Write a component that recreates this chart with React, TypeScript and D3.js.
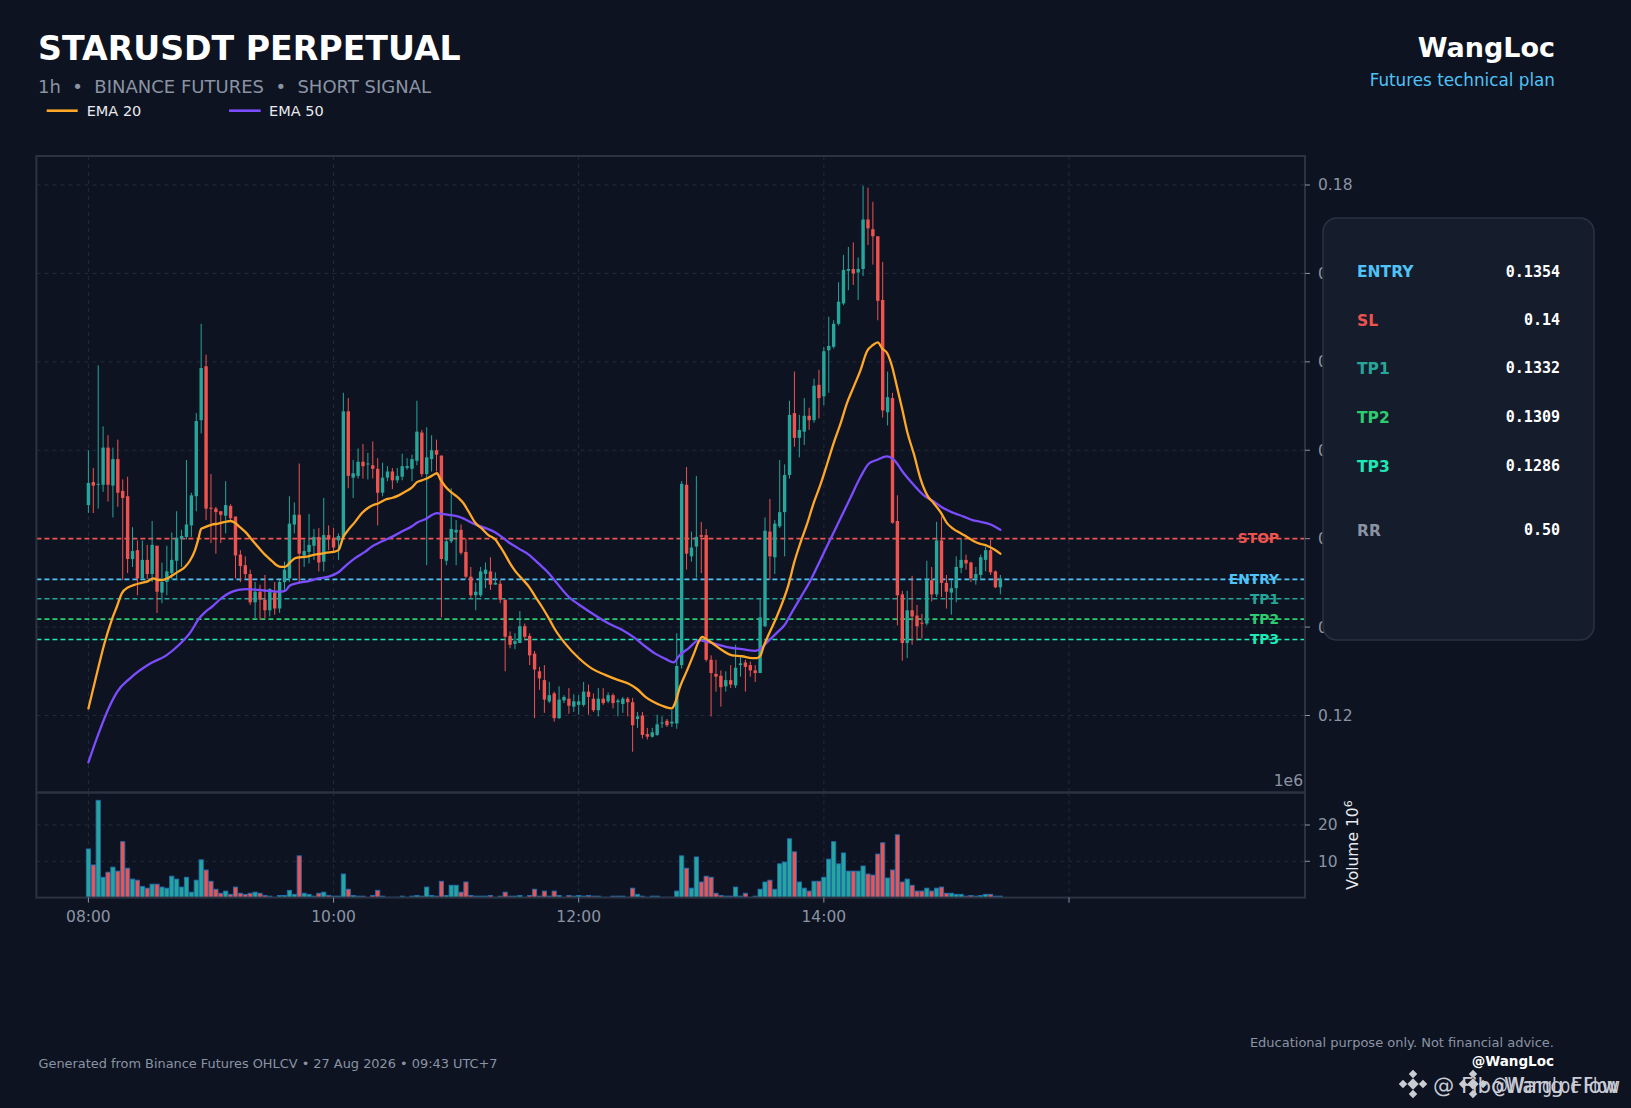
import React from 'react';
import * as d3 from 'd3';

const W = 1631;
const H = 1108;

// ---- data ----
const startTime = new Date(2026, 7, 27, 8, 0);
const stepMinutes = 2.4;

const opens = [
  0.1438, 0.1464, 0.1461, 0.1461, 0.1503, 0.1460, 0.1490, 0.1454, 0.1448, 0.1377,
  0.1387, 0.1355, 0.1376, 0.1360, 0.1392, 0.1339, 0.1351, 0.1361, 0.1375, 0.1400,
  0.1402, 0.1415, 0.1448, 0.1534, 0.1595, 0.1435, 0.1434, 0.1431, 0.1426, 0.1437,
  0.1425, 0.1382, 0.1370, 0.1360, 0.1328, 0.1340, 0.1331, 0.1319, 0.1339, 0.1321,
  0.1351, 0.1355, 0.1416, 0.1427, 0.1381, 0.1385, 0.1392, 0.1402, 0.1374, 0.1404,
  0.1401, 0.1398, 0.1402, 0.1544, 0.1469, 0.1471, 0.1487, 0.1484, 0.1483, 0.1479,
  0.1452, 0.1469, 0.1476, 0.1466, 0.1470, 0.1480, 0.1479, 0.1488, 0.1520, 0.1473,
  0.1490, 0.1500, 0.1494, 0.1375, 0.1397, 0.1407, 0.1410, 0.1385, 0.1357, 0.1336,
  0.1336, 0.1360, 0.1363, 0.1348, 0.1349, 0.1331, 0.1290, 0.1281, 0.1282, 0.1301,
  0.1290, 0.1270, 0.1250, 0.1240, 0.1216, 0.1225, 0.1197, 0.1217, 0.1219, 0.1210,
  0.1212, 0.1212, 0.1227, 0.1219, 0.1206, 0.1219, 0.1216, 0.1223, 0.1215, 0.1213,
  0.1219, 0.1215, 0.1196, 0.1200, 0.1179, 0.1176, 0.1178, 0.1191, 0.1194, 0.1191,
  0.1191, 0.1257, 0.1461, 0.1380, 0.1391, 0.1404, 0.1404, 0.1263, 0.1247, 0.1245,
  0.1233, 0.1240, 0.1234, 0.1257, 0.1260, 0.1257, 0.1251, 0.1248, 0.1301, 0.1408,
  0.1379, 0.1414, 0.1430, 0.1472, 0.1542, 0.1514, 0.1521, 0.1539, 0.1534, 0.1574,
  0.1561, 0.1613, 0.1617, 0.1643, 0.1666, 0.1703, 0.1705, 0.1701, 0.1705, 0.1761,
  0.1750, 0.1742, 0.1670, 0.1543, 0.1559, 0.1420, 0.1337, 0.1282, 0.1319, 0.1313,
  0.1305, 0.1304, 0.1353, 0.1337, 0.1398, 0.1350, 0.1339, 0.1344, 0.1367, 0.1376,
  0.1373, 0.1355, 0.1359, 0.1376, 0.1387, 0.1363, 0.1345,
];
const highs = [
  0.1500, 0.1480, 0.1596, 0.1527, 0.1517, 0.1503, 0.1512, 0.1467, 0.1470, 0.1413,
  0.1398, 0.1398, 0.1393, 0.1420, 0.1392, 0.1373, 0.1392, 0.1407, 0.1431, 0.1410,
  0.1489, 0.1452, 0.1542, 0.1643, 0.1608, 0.1473, 0.1436, 0.1431, 0.1465, 0.1439,
  0.1425, 0.1387, 0.1380, 0.1365, 0.1351, 0.1348, 0.1359, 0.1344, 0.1351, 0.1353,
  0.1374, 0.1448, 0.1441, 0.1485, 0.1399, 0.1428, 0.1411, 0.1412, 0.1446, 0.1415,
  0.1412, 0.1406, 0.1565, 0.1559, 0.1489, 0.1502, 0.1507, 0.1497, 0.1510, 0.1491,
  0.1486, 0.1482, 0.1480, 0.1480, 0.1496, 0.1491, 0.1495, 0.1556, 0.1523, 0.1526,
  0.1517, 0.1512, 0.1494, 0.1400, 0.1457, 0.1421, 0.1416, 0.1400, 0.1368, 0.1350,
  0.1368, 0.1373, 0.1379, 0.1362, 0.1353, 0.1331, 0.1295, 0.1293, 0.1318, 0.1304,
  0.1293, 0.1273, 0.1255, 0.1257, 0.1238, 0.1227, 0.1233, 0.1223, 0.1231, 0.1224,
  0.1223, 0.1238, 0.1235, 0.1225, 0.1231, 0.1231, 0.1226, 0.1225, 0.1219, 0.1221,
  0.1221, 0.1220, 0.1204, 0.1204, 0.1186, 0.1186, 0.1201, 0.1199, 0.1196, 0.1206,
  0.1293, 0.1465, 0.1481, 0.1408, 0.1471, 0.1419, 0.1411, 0.1268, 0.1263, 0.1251,
  0.1250, 0.1257, 0.1280, 0.1268, 0.1263, 0.1261, 0.1257, 0.1333, 0.1424, 0.1445,
  0.1421, 0.1489, 0.1484, 0.1556, 0.1589, 0.1540, 0.1559, 0.1548, 0.1581, 0.1591,
  0.1617, 0.1651, 0.1647, 0.1690, 0.1721, 0.1730, 0.1735, 0.1718, 0.1799, 0.1797,
  0.1781, 0.1742, 0.1713, 0.1589, 0.1565, 0.1449, 0.1341, 0.1341, 0.1358, 0.1325,
  0.1315, 0.1375, 0.1368, 0.1419, 0.1425, 0.1359, 0.1353, 0.1380, 0.1400, 0.1382,
  0.1374, 0.1368, 0.1382, 0.1391, 0.1399, 0.1364, 0.1359,
];
const lows = [
  0.1429, 0.1429, 0.1434, 0.1453, 0.1442, 0.1424, 0.1436, 0.1353, 0.1361, 0.1368,
  0.1336, 0.1354, 0.1354, 0.1351, 0.1316, 0.1327, 0.1336, 0.1354, 0.1353, 0.1368,
  0.1399, 0.1402, 0.1431, 0.1519, 0.1421, 0.1395, 0.1383, 0.1395, 0.1406, 0.1419,
  0.1355, 0.1351, 0.1355, 0.1325, 0.1310, 0.1308, 0.1310, 0.1312, 0.1314, 0.1316,
  0.1342, 0.1351, 0.1406, 0.1351, 0.1368, 0.1372, 0.1376, 0.1363, 0.1363, 0.1387,
  0.1385, 0.1376, 0.1400, 0.1457, 0.1446, 0.1468, 0.1468, 0.1467, 0.1468, 0.1415,
  0.1448, 0.1465, 0.1456, 0.1463, 0.1466, 0.1478, 0.1465, 0.1483, 0.1470, 0.1370,
  0.1476, 0.1476, 0.1311, 0.1370, 0.1395, 0.1370, 0.1382, 0.1355, 0.1333, 0.1319,
  0.1334, 0.1344, 0.1342, 0.1348, 0.1327, 0.1250, 0.1276, 0.1275, 0.1282, 0.1285,
  0.1257, 0.1197, 0.1229, 0.1203, 0.1214, 0.1193, 0.1196, 0.1214, 0.1202, 0.1204,
  0.1201, 0.1210, 0.1201, 0.1204, 0.1199, 0.1212, 0.1214, 0.1208, 0.1199, 0.1203,
  0.1199, 0.1159, 0.1186, 0.1174, 0.1173, 0.1175, 0.1177, 0.1186, 0.1187, 0.1187,
  0.1185, 0.1253, 0.1365, 0.1374, 0.1356, 0.1361, 0.1261, 0.1199, 0.1227, 0.1210,
  0.1227, 0.1231, 0.1231, 0.1244, 0.1227, 0.1244, 0.1238, 0.1248, 0.1300, 0.1353,
  0.1360, 0.1412, 0.1380, 0.1468, 0.1504, 0.1492, 0.1506, 0.1523, 0.1531, 0.1536,
  0.1551, 0.1565, 0.1615, 0.1641, 0.1664, 0.1681, 0.1687, 0.1670, 0.1697, 0.1732,
  0.1710, 0.1647, 0.1537, 0.1528, 0.1417, 0.1302, 0.1262, 0.1265, 0.1280, 0.1285,
  0.1287, 0.1302, 0.1329, 0.1334, 0.1334, 0.1321, 0.1314, 0.1328, 0.1361, 0.1365,
  0.1351, 0.1348, 0.1353, 0.1363, 0.1359, 0.1344, 0.1337,
];
const closes = [
  0.1463, 0.1460, 0.1462, 0.1503, 0.1461, 0.1490, 0.1452, 0.1446, 0.1377, 0.1386,
  0.1355, 0.1376, 0.1360, 0.1393, 0.1340, 0.1351, 0.1363, 0.1376, 0.1401, 0.1403,
  0.1416, 0.1449, 0.1533, 0.1593, 0.1434, 0.1434, 0.1430, 0.1427, 0.1438, 0.1423,
  0.1381, 0.1369, 0.1360, 0.1328, 0.1340, 0.1331, 0.1319, 0.1343, 0.1321, 0.1351,
  0.1365, 0.1417, 0.1427, 0.1383, 0.1386, 0.1393, 0.1402, 0.1373, 0.1404, 0.1399,
  0.1390, 0.1403, 0.1544, 0.1471, 0.1474, 0.1487, 0.1482, 0.1485, 0.1479, 0.1452,
  0.1469, 0.1476, 0.1466, 0.1471, 0.1482, 0.1482, 0.1490, 0.1521, 0.1473, 0.1492,
  0.1500, 0.1495, 0.1377, 0.1397, 0.1411, 0.1410, 0.1384, 0.1357, 0.1336, 0.1340,
  0.1363, 0.1365, 0.1348, 0.1350, 0.1331, 0.1289, 0.1280, 0.1284, 0.1301, 0.1289,
  0.1268, 0.1252, 0.1242, 0.1218, 0.1223, 0.1197, 0.1218, 0.1221, 0.1211, 0.1216,
  0.1216, 0.1227, 0.1221, 0.1206, 0.1219, 0.1214, 0.1223, 0.1214, 0.1217, 0.1219,
  0.1215, 0.1189, 0.1199, 0.1178, 0.1176, 0.1181, 0.1190, 0.1192, 0.1189, 0.1193,
  0.1256, 0.1462, 0.1383, 0.1390, 0.1402, 0.1402, 0.1263, 0.1248, 0.1244, 0.1232,
  0.1240, 0.1235, 0.1254, 0.1259, 0.1255, 0.1251, 0.1248, 0.1311, 0.1409, 0.1380,
  0.1417, 0.1430, 0.1472, 0.1540, 0.1514, 0.1523, 0.1539, 0.1534, 0.1573, 0.1559,
  0.1612, 0.1618, 0.1643, 0.1668, 0.1704, 0.1705, 0.1700, 0.1705, 0.1761, 0.1751,
  0.1742, 0.1669, 0.1545, 0.1560, 0.1418, 0.1336, 0.1282, 0.1319, 0.1312, 0.1301,
  0.1304, 0.1353, 0.1337, 0.1398, 0.1350, 0.1340, 0.1344, 0.1368, 0.1376, 0.1372,
  0.1355, 0.1360, 0.1379, 0.1387, 0.1362, 0.1345, 0.1355,
];
// volume in millions
const volumes = [
  13.4, 9.0, 26.8, 5.6, 7.0, 8.4, 7.3, 15.4, 8.1, 5.1,
  4.8, 3.1, 2.6, 3.7, 3.7, 2.9, 2.6, 5.9, 5.1, 2.9,
  5.6, 1.5, 4.8, 10.4, 7.6, 4.5, 2.3, 1.2, 1.8, 0.9,
  2.9, 1.2, 0.9, 1.2, 1.5, 1.2, 0.6, 0.4, 0.1, 0.6,
  0.6, 2.0, 0.9, 11.5, 1.2, 0.9, 0.4, 1.2, 1.5, 0.6,
  0.4, 0.4, 6.5, 2.3, 0.6, 0.4, 0.4, 0.1, 0.6, 2.0,
  0.4, 0.1, 0.1, 0.1, 0.4, 0.1, 0.4, 0.6, 0.4, 2.9,
  0.6, 0.4, 4.5, 0.6, 3.4, 3.4, 1.5, 4.3, 0.6, 0.4,
  0.4, 0.4, 0.6, 0.1, 0.4, 1.5, 0.4, 0.4, 0.6, 0.1,
  0.6, 2.3, 0.4, 1.8, 0.4, 1.8, 0.6, 0.1, 0.6, 0.4,
  0.6, 0.4, 0.6, 0.4, 0.4, 0.1, 0.1, 0.4, 0.4, 0.4,
  0.1, 2.6, 0.9, 0.4, 0.1, 0.4, 0.4, 0.1, 0.1, 0.1,
  1.8, 11.5, 8.1, 2.6, 11.2, 4.3, 5.9, 5.6, 1.2, 0.6,
  0.4, 0.4, 2.9, 0.4, 1.2, 0.1, 0.4, 2.3, 4.3, 4.8,
  2.3, 9.3, 9.8, 16.2, 12.6, 4.3, 2.6, 1.8, 4.5, 4.5,
  5.6, 10.6, 15.4, 9.3, 12.3, 7.3, 7.3, 7.3, 8.7, 6.5,
  6.2, 12.0, 15.1, 5.4, 7.6, 17.3, 4.3, 5.1, 3.4, 1.8,
  1.8, 2.6, 1.8, 2.6, 2.9, 1.2, 1.2, 0.9, 0.9, 0.4,
  0.6, 0.4, 0.6, 0.9, 0.9, 0.4, 0.4,
];

// EMA lines (position = candle index)
const ema20Pos = [
  0, 2.1, 3.2, 4.75, 5.8, 6.8, 8.15, 9.5, 10.9, 12.2, 13.25, 14.3, 15.6, 17, 18.4, 19.7, 20.7, 21.75, 22.4, 23,
  23.8, 25.2, 26.5, 27.9, 28.9, 29.9, 30.9, 32.3, 33.3, 34.7, 36, 37.4, 38.4, 39.4, 40.1, 41.1, 42.2, 43.5, 44.9, 46.2,
  47.6, 48.3, 50, 51, 52, 53, 54.4, 55.8, 57.1, 58.1, 59.2, 60.5, 61.9, 63.3, 64.6, 66, 67, 68, 69, 70,
  71.1, 71.8, 72.8, 74.1, 75.5, 76.5, 77.5, 78.9, 80.3, 81.6, 83, 84, 85, 86, 87.1, 88.4, 89.8, 91.2, 92.5, 93.9,
  95.2, 97.3, 100, 102.7, 105.4, 108.1, 110.2, 111.9, 113.6, 115, 117, 119, 119.5, 120.7, 122.1, 123.5, 124.5, 125.2, 125.8, 127.2,
  129.2, 131.3, 133.3, 135.4, 136.4, 137.1, 137.7, 138.7, 140.1, 141.5, 142.8, 143.9, 145.2, 146.6, 147.9, 149.3, 150.7, 152, 153.4, 154.7,
  156.1, 157.5, 158.8, 160, 161, 161.9, 162.9, 163.9, 164.9, 166, 167, 168.4, 169.7, 171.1, 172.4, 173.8, 175.2, 176.2, 177.9, 179.2,
  180.6, 182, 183.3, 184.7, 186,
];
const ema20Val = [
  0.1208, 0.1256, 0.1280, 0.1308, 0.1323, 0.1338, 0.1345, 0.1348, 0.1350, 0.1352, 0.1355, 0.1353, 0.1354, 0.1358, 0.1363, 0.1368, 0.1375, 0.1387, 0.1399, 0.1411,
  0.1413, 0.1416, 0.1417, 0.1419, 0.1420, 0.1418, 0.1413, 0.1406, 0.1399, 0.1390, 0.1382, 0.1375, 0.1370, 0.1368, 0.1368, 0.1373, 0.1378, 0.1379, 0.1380, 0.1382,
  0.1383, 0.1384, 0.1385, 0.1387, 0.1402, 0.1410, 0.1419, 0.1429, 0.1435, 0.1438, 0.1440, 0.1444, 0.1446, 0.1449, 0.1453, 0.1458, 0.1464, 0.1466, 0.1468, 0.1471,
  0.1474, 0.1467, 0.1459, 0.1452, 0.1446, 0.1440, 0.1431, 0.1418, 0.1411, 0.1404, 0.1399, 0.1391, 0.1382, 0.1372, 0.1363, 0.1355, 0.1346, 0.1334, 0.1323, 0.1310,
  0.1297, 0.1281, 0.1265, 0.1253, 0.1246, 0.1240, 0.1236, 0.1230, 0.1221, 0.1216, 0.1211, 0.1208, 0.1212, 0.1233, 0.1251, 0.1270, 0.1284, 0.1289, 0.1287, 0.1282,
  0.1274, 0.1268, 0.1267, 0.1265, 0.1265, 0.1268, 0.1278, 0.1291, 0.1308, 0.1327, 0.1348, 0.1372, 0.1395, 0.1417, 0.1440, 0.1461, 0.1485, 0.1508, 0.1530, 0.1553,
  0.1572, 0.1591, 0.1612, 0.1619, 0.1622, 0.1615, 0.1610, 0.1595, 0.1572, 0.1546, 0.1521, 0.1495, 0.1468, 0.1449, 0.1440, 0.1430, 0.1417, 0.1412, 0.1406, 0.1402,
  0.1397, 0.1394, 0.1392, 0.1388, 0.1383,
];
const ema50Pos = [
  0, 2.1, 4.2, 5.9, 8.5, 12.7, 15.9, 18.5, 20.8, 22.6, 23.8, 25.2, 27.2, 28.9, 30.6, 32.3, 34.7, 36.7, 38.8, 40.1,
  41.1, 42.8, 44.9, 46.9, 49, 51, 52.4, 54.4, 56.4, 57.8, 59.9, 61.9, 63.9, 66, 67, 68.7, 71.1, 72.1, 73.5, 75.5,
  76.8, 78.9, 81, 83, 84.3, 85.7, 87.7, 89.8, 91.8, 93.9, 95.5, 98, 100.7, 103.4, 106.1, 108.8, 111.6, 113.6, 115.6, 117.7,
  119.4, 120.4, 122.4, 124.5, 126.5, 128.6, 130.6, 133.3, 136, 137.4, 138.8, 140.5, 142.2, 143.2, 145.2, 147.3, 149.3, 151.3, 153.4, 155.4,
  157.5, 159.2, 160.8, 162.9, 164.3, 166.3, 168.3, 170.4, 172.4, 174.5, 176.5, 178.5, 180.3, 182, 184, 186,
];
const ema50Val = [
  0.1147, 0.1180, 0.1209, 0.1227, 0.1242, 0.1259, 0.1268, 0.1280, 0.1294, 0.1310, 0.1317, 0.1323, 0.1333, 0.1339, 0.1342, 0.1343, 0.1342, 0.1341, 0.1340, 0.1341,
  0.1347, 0.1350, 0.1352, 0.1355, 0.1357, 0.1362, 0.1369, 0.1378, 0.1385, 0.1391, 0.1397, 0.1402, 0.1408, 0.1414, 0.1418, 0.1422, 0.1429, 0.1428, 0.1427, 0.1425,
  0.1422, 0.1416, 0.1412, 0.1407, 0.1402, 0.1396, 0.1389, 0.1382, 0.1372, 0.1361, 0.1350, 0.1334, 0.1323, 0.1313, 0.1304, 0.1297, 0.1287, 0.1278, 0.1270, 0.1264,
  0.1260, 0.1267, 0.1276, 0.1285, 0.1283, 0.1280, 0.1277, 0.1275, 0.1273, 0.1277, 0.1285, 0.1294, 0.1304, 0.1314, 0.1333, 0.1353, 0.1376, 0.1399, 0.1423, 0.1446,
  0.1470, 0.1485, 0.1489, 0.1493, 0.1489, 0.1474, 0.1461, 0.1449, 0.1442, 0.1434, 0.1429, 0.1425, 0.1421, 0.1419, 0.1416, 0.1410,
];

const levelNames = ['STOP', 'ENTRY', 'TP1', 'TP2', 'TP3'];
const levelValues = [0.14, 0.1354, 0.1332, 0.1309, 0.1286];
const levelColors = ['#ef5350', '#4fc3f7', '#26a69a', '#2ecc71', '#1de9b6'];

const panelLabels = ['ENTRY', 'SL', 'TP1', 'TP2', 'TP3', 'RR'];
const panelValues = ['0.1354', '0.14', '0.1332', '0.1309', '0.1286', '0.50'];
const panelColors = ['#4fc3f7', '#ef5350', '#26a69a', '#2ecc71', '#1de9b6', '#8a93a3'];

const priceTicks = [0.12, 0.13, 0.14, 0.15, 0.16, 0.17, 0.18];
const volumeTicks = [10, 20];
const timeTickHours = [8, 10, 12, 14, 16];
const timeTickLabels = ['08:00', '10:00', '12:00', '14:00', ''];

// ---- layout ----
const PX0 = 36.4;
const PX1 = 1305;
const PY0 = 156;
const PY1 = 792.5;
const VY1 = 897.6;

const BG = '#0d1321';
const GRID = '#232b3a';
const AXIS_TXT = '#8b93a3';
const FONT = '"DejaVu Sans", Verdana, sans-serif';
const MONO = '"DejaVu Sans Mono", monospace';
const UP = '#26a69a';
const DOWN = '#ef5350';

const timeAt = (i: number) => new Date(startTime.getTime() + i * stepMinutes * 60000);

export default function App() {
  const x = d3
    .scaleTime()
    .domain([new Date(2026, 7, 27, 8, 0), new Date(2026, 7, 27, 16, 0)])
    .range([88.4, 1069]);
  const y = d3.scaleLinear().domain([0.12, 0.18]).range([715.5, 185]);
  const v = d3.scaleLinear().domain([0, 10]).range([VY1, 861.3]);

  const candles = opens.map((o, i) => ({
    i,
    o,
    h: highs[i],
    l: lows[i],
    c: closes[i],
    vol: volumes[i],
    up: closes[i] >= o,
  }));

  const line = d3
    .line<[number, number]>()
    .x((d) => x(timeAt(d[0])))
    .y((d) => y(d[1]))
    .curve(d3.curveMonotoneX);

  const ema20Path = line(ema20Pos.map((p, k) => [p, ema20Val[k]]) as [number, number][]) || '';
  const ema50Path = line(ema50Pos.map((p, k) => [p, ema50Val[k]]) as [number, number][]) || '';

  const bodyW = 3.4;
  const volW = 4.2;

  const tickTimes = timeTickHours.map((h) => new Date(2026, 7, 27, h, 0));

  return (
    <div style={{ position: 'absolute', left: 0, top: 0, width: W, height: H, background: BG }}>
      <svg width={W} height={H} viewBox={`0 0 ${W} ${H}`} style={{ display: 'block' }}>
        <defs>
          <clipPath id="priceClip">
            <rect x={PX0} y={PY0} width={PX1 - PX0} height={PY1 - PY0} />
          </clipPath>
          <clipPath id="volClip">
            <rect x={PX0} y={PY1} width={PX1 - PX0} height={VY1 - PY1} />
          </clipPath>
        </defs>
        <rect x={0} y={0} width={W} height={H} fill={BG} />

        {/* header */}
        <text x={38} y={60} fill="#ffffff" fontFamily={FONT} fontWeight="bold" fontSize={33.2}>
          STARUSDT PERPETUAL
        </text>
        <text x={38} y={92.5} fill={AXIS_TXT} fontFamily={FONT} fontSize={18} xmlSpace="preserve">
          {'1h  •  BINANCE FUTURES  •  SHORT SIGNAL'}
        </text>
        <line x1={46.7} x2={77.7} y1={110.7} y2={110.7} stroke="#ffa726" strokeWidth={2.6} />
        <text x={86.7} y={115.5} fill="#e8eaee" fontFamily={FONT} fontSize={14.5}>
          EMA 20
        </text>
        <line x1={229} x2={260.7} y1={110.7} y2={110.7} stroke="#7c4dff" strokeWidth={2.6} />
        <text x={269} y={115.5} fill="#e8eaee" fontFamily={FONT} fontSize={14.5}>
          EMA 50
        </text>

        <text x={1555} y={57} fill="#ffffff" fontFamily={FONT} fontWeight="bold" fontSize={27}>
          <tspan textAnchor="end">WangLoc</tspan>
        </text>
        <text x={1555} y={86} fill="#4fc3f7" fontFamily={FONT} fontSize={16.8} textAnchor="end">
          Futures technical plan
        </text>

        {/* grid */}
        <g stroke={GRID} strokeWidth={1} strokeDasharray="4,4">
          {priceTicks.map((t) => (
            <line key={'pg' + t} x1={PX0} x2={PX1} y1={y(t)} y2={y(t)} />
          ))}
          {volumeTicks.map((t) => (
            <line key={'vg' + t} x1={PX0} x2={PX1} y1={v(t)} y2={v(t)} />
          ))}
          {tickTimes.map((t, k) => (
            <g key={'tg' + k}>
              <line x1={x(t)} x2={x(t)} y1={PY0} y2={PY1} />
              <line x1={x(t)} x2={x(t)} y1={PY1} y2={VY1} />
            </g>
          ))}
        </g>

        {/* level lines */}
        <g clipPath="url(#priceClip)">
          {levelValues.map((lv, k) => (
            <line
              key={'lv' + k}
              x1={PX0}
              x2={PX1}
              y1={y(lv)}
              y2={y(lv)}
              stroke={levelColors[k]}
              strokeWidth={1.6}
              strokeDasharray="5,3"
            />
          ))}
        </g>

        {/* candles */}
        <g clipPath="url(#priceClip)">
          {candles.map((d) => {
            const cx = x(timeAt(d.i));
            const col = d.up ? UP : DOWN;
            const top = y(Math.max(d.o, d.c));
            const bot = y(Math.min(d.o, d.c));
            return (
              <g key={'c' + d.i}>
                <line x1={cx} x2={cx} y1={y(d.h)} y2={y(d.l)} stroke={col} strokeWidth={1} />
                <rect x={cx - bodyW / 2} y={top} width={bodyW} height={Math.max(bot - top, 1)} fill={col} />
              </g>
            );
          })}
        </g>

        {/* EMAs */}
        <g clipPath="url(#priceClip)" fill="none" strokeLinejoin="round" strokeLinecap="round">
          <path d={ema50Path} stroke="#7c4dff" strokeWidth={2.3} />
          <path d={ema20Path} stroke="#ffa726" strokeWidth={2.3} />
        </g>

        {/* level labels */}
        {levelNames.map((n, k) => (
          <text
            key={'ll' + k}
            x={1279}
            y={y(levelValues[k])}
            dy="0.35em"
            textAnchor="end"
            fill={levelColors[k]}
            fontFamily={FONT}
            fontWeight="bold"
            fontSize={13.8}
          >
            {n}
          </text>
        ))}

        {/* volume */}
        <g clipPath="url(#volClip)">
          {candles.map((d) => {
            const cx = x(timeAt(d.i));
            return (
              <rect
                key={'v' + d.i}
                x={cx - volW / 2}
                y={v(d.vol)}
                width={volW}
                height={VY1 - v(d.vol)}
                fill={d.up ? UP : DOWN}
                stroke="#1f6fb4"
                strokeWidth={0.9}
              />
            );
          })}
        </g>

        {/* frames */}
        <rect x={PX0} y={PY0} width={PX1 - PX0} height={PY1 - PY0} fill="none" stroke="#2b3241" strokeWidth={2} />
        <rect x={PX0} y={PY1} width={PX1 - PX0} height={VY1 - PY1} fill="none" stroke="#2b3241" strokeWidth={2} />

        {/* right axis ticks */}
        {priceTicks.map((t) => (
          <g key={'pt' + t}>
            <line x1={PX1} x2={PX1 + 5} y1={y(t)} y2={y(t)} stroke={AXIS_TXT} strokeWidth={1} />
            <text x={1318} y={y(t)} dy="0.35em" fill={AXIS_TXT} fontFamily={FONT} fontSize={15.5}>
              {d3.format('.2f')(t)}
            </text>
          </g>
        ))}
        {volumeTicks.map((t) => (
          <g key={'vt' + t}>
            <line x1={PX1} x2={PX1 + 5} y1={v(t)} y2={v(t)} stroke={AXIS_TXT} strokeWidth={1} />
            <text x={1318} y={v(t)} dy="0.35em" fill={AXIS_TXT} fontFamily={FONT} fontSize={15.5}>
              {t}
            </text>
          </g>
        ))}
        <text x={1303} y={786} textAnchor="end" fill={AXIS_TXT} fontFamily={FONT} fontSize={15.5}>
          1e6
        </text>
        <text
          transform={`translate(1358, 845) rotate(-90)`}
          textAnchor="middle"
          fill="#e8eaee"
          fontFamily={FONT}
          fontSize={15.5}
        >
          Volume{'  '}10<tspan dy={-6} fontSize={11}>6</tspan>
        </text>

        {/* x axis */}
        {tickTimes.map((t, k) => (
          <g key={'xt' + k}>
            <line x1={x(t)} x2={x(t)} y1={VY1} y2={VY1 + 5} stroke={AXIS_TXT} strokeWidth={1} />
            <text x={x(t)} y={921.5} textAnchor="middle" fill={AXIS_TXT} fontFamily={FONT} fontSize={15.5}>
              {timeTickLabels[k]}
            </text>
          </g>
        ))}

        {/* info panel */}
        <rect x={1323} y={218} width={271} height={422} rx={14} fill="#151c2b" stroke="#2a3242" strokeWidth={1.5} />
        {panelLabels.map((lab, k) => {
          const rowY = [271.5, 320, 368, 417, 466, 530][k];
          return (
            <g key={'pl' + k}>
              <text x={1357} y={rowY} dy="0.36em" fill={panelColors[k]} fontFamily={FONT} fontWeight="bold" fontSize={15.5}>
                {lab}
              </text>
              <text x={1560} y={rowY} dy="0.36em" textAnchor="end" fill="#ffffff" fontFamily={MONO} fontWeight="bold" fontSize={15}>
                {panelValues[k]}
              </text>
            </g>
          );
        })}

        {/* footer */}
        <text x={38.5} y={1068} fill={AXIS_TXT} fontFamily={FONT} fontSize={12.9}>
          Generated from Binance Futures OHLCV • 27 Aug 2026 • 09:43 UTC+7
        </text>
        <text x={1554} y={1047} textAnchor="end" fill={AXIS_TXT} fontFamily={FONT} fontSize={13}>
          Educational purpose only. Not financial advice.
        </text>
        <text x={1554} y={1066} textAnchor="end" fill="#ffffff" fontFamily={FONT} fontWeight="bold" fontSize={13.5}>
          @WangLoc
        </text>

        {/* watermark */}
        <g fill="#d9dce2" opacity={0.92}>
          {[1413, 1473].map((cx, k) => (
            <g key={'wm' + k} transform={`translate(${cx}, 1084)`}>
              <rect x={-4} y={-4} width={8} height={8} transform="rotate(45)" />
              <rect x={-3} y={-13} width={6} height={6} transform="rotate(45 0 -10)" />
              <rect x={-3} y={7} width={6} height={6} transform="rotate(45 0 10)" />
              <rect x={-13} y={-3} width={6} height={6} transform="rotate(45 -10 0)" />
              <rect x={7} y={-3} width={6} height={6} transform="rotate(45 10 0)" />
            </g>
          ))}
          <text x={1433} y={1093} fontFamily={FONT} fontSize={22} textLength={186} lengthAdjust="spacingAndGlyphs">
            @ FiboWang Flow
          </text>
          <text x={1492} y={1093} fontFamily={FONT} fontSize={21} textLength={128} lengthAdjust="spacingAndGlyphs">
            @WangLoc Flow
          </text>
        </g>
      </svg>
    </div>
  );
}
